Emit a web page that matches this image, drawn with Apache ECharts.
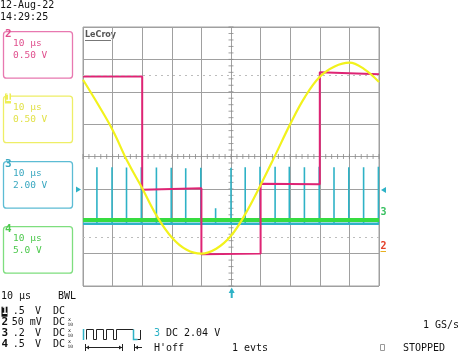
<!DOCTYPE html>
<html>
<head>
<meta charset="utf-8">
<script src="https://cdn.jsdelivr.net/npm/echarts@6/dist/echarts.min.js"></script>
<style>
  html, body { margin: 0; padding: 0; background: #fff; }
  #scope { width: 474px; height: 355px; }
</style>
</head>
<body>
<div id="scope"></div>
<script>
// time in µs (10 µs/div), level in divisions (screen is 8 div tall)
const ch1Time  = [-50, -45, -40, -35, -30, -25, -20, -15, -10, -5, 0, 5, 10, 15, 20, 25, 30, 35, 40, 45, 50];
const ch1Level = [2.37, 1.62, 0.82, -0.15, -0.98, -1.85, -2.5, -2.88, -3.0, -2.85, -2.45, -1.75, -0.88, 0.05, 1.0, 1.84, 2.46, 2.78, 2.9, 2.7, 2.3];

const ch2Time  = [-50, -30, -30, -10, -10, 10, 10, 30, 30, 50];
const ch2Level = [2.47, 2.47, -1.03, -0.98, -3.02, -3.0, -0.84, -0.86, 2.6, 2.54];

const ch3SpikeTime = [-45.3, -40.2, -35.3, -30.3, -25.2, -20.2, -15.3, -10.2, -5.2, 0, 4.8, 9.8, 14.9, 19.7, 24.8, 29.8, 34.8, 39.8, 44.8, 49.8];
const ch3SpikeTop  = [-0.33, -0.33, -0.34, -0.33, -0.34, -0.35, -0.36, -0.35, -1.6, -0.35, -0.33, -0.32, -0.32, -0.32, -0.33, -0.32, -0.33, -0.33, -0.33, -0.32];
const ch3Base = -2.08;

const ch4Time  = [-50, 50];
const ch4Level = [-1.96, -1.96];

const cursorLevels = [2.5, -2.5];

const chart = echarts.init(document.getElementById('scope'));

const mono = '"DejaVu Sans Mono", monospace';
const PINK = '#de2474', YEL = '#f2f21c', CYAN = '#2eb2c6', GREEN = '#36dc40';

// trace 3: flat line with short spikes
const ch3Data = [[-50, ch3Base]];
ch3SpikeTime.forEach((t, i) => {
  ch3Data.push([t, ch3Base], [t, ch3SpikeTop[i]], [t, ch3Base]);
});
ch3Data.push([50, ch3Base]);

// small ticks on the centre cross of the graticule
const hTicks = [], vTicks = [];
for (let t = -50; t <= 50; t += 2) hTicks.push([t, 0]);
for (let v = -4; v <= 4.001; v += 0.2) vTicks.push([0, +v.toFixed(1)]);

function txt(x, y, text, fill, size, bold) {
  return {
    type: 'text', x: x, y: y, silent: true,
    style: { text: text, fill: fill || '#111', font: (bold ? 'bold ' : '') + (size || 10) + 'px ' + mono, verticalAlign: 'middle' }
  };
}
function box(y, color, label, textColor, l1, l2) {
  return [
    { type: 'rect', shape: { x: 3.5, y: y, width: 69, height: 46.5, r: 3 },
      style: { fill: 'none', stroke: color, lineWidth: 1.3 } },
    txt(5, y + 2, label, textColor, 11, true),
    txt(13, y + 11.5, l1, textColor, 9.5),
    txt(13, y + 23.5, l2, textColor, 9.5)
  ];
}

const g = [];
g.push(txt(0, 5, '12-Aug-22'), txt(0, 17.5, '14:29:25'));
g.push(...box(31.7, '#e878b0', '2', '#e0508e', '10 µs', '0.50 V'));
g.push(...box(96.2, '#eeee66', '1', '#e2e24a', '10 µs', '0.50 V'));
g.push(...box(161.7, '#5cbcd4', '3', '#3aa8c0', '10 µs', '2.00 V'));
g.push(...box(226.7, '#7ede7e', '4', '#4cc84c', '10 µs', '5.0 V'));
// channel 1 label shown inverted
g.push({ type: 'rect', shape: { x: 5, y: 93.5, width: 6, height: 10 }, style: { fill: '#eeee55' } });
g.push(txt(5.5, 98.7, '1', '#fff', 10, true));

// LeCroy badge
g.push({ type: 'text', x: 85, y: 35, silent: true,
  style: { text: 'LeCroy', fill: '#555', font: 'bold 8px "DejaVu Sans"', verticalAlign: 'middle' } });
g.push({ type: 'line', shape: { x1: 85, y1: 40.5, x2: 111, y2: 40.5 }, style: { stroke: '#777', lineWidth: 1 } });

// trigger markers
g.push({ type: 'polygon', shape: { points: [[76, 186.5], [76, 192.5], [81, 189.5]] }, style: { fill: CYAN } });
g.push({ type: 'polygon', shape: { points: [[386, 187], [386, 193], [381, 190]] }, style: { fill: CYAN } });
g.push({ type: 'polygon', shape: { points: [[228.7, 293], [234.7, 293], [231.7, 287.5]] }, style: { fill: CYAN } });
g.push({ type: 'line', shape: { x1: 231.7, y1: 292, x2: 231.7, y2: 298 }, style: { stroke: CYAN, lineWidth: 2 } });
g.push(txt(380.5, 212, '3', '#38c060', 10, true));
g.push(txt(380.5, 246, '2', '#e4402a', 10, true));
g.push({ type: 'line', shape: { x1: 380.5, y1: 251.5, x2: 386, y2: 251.5 }, style: { stroke: '#e8b020', lineWidth: 1 } });

// bottom status area
g.push(txt(1, 296, '10 µs'), txt(58, 296, 'BWL'));
const rowY = [311.7, 322.4, 333.3, 344.2];
const rowVal = ['.5', '50 mV', '.2', '.5'];
rowY.forEach((y, i) => {
  if (i === 0) {
    g.push({ type: 'rect', shape: { x: 1.5, y: y - 5, width: 6, height: 10 }, style: { fill: '#111' } });
    g.push(txt(1.8, y, '1', '#fff', 10, true));
  } else {
    g.push(txt(1.5, y, String(i + 1), '#111', 11, true));
  }
  if (i === 1) {
    g.push(txt(11.7, y, rowVal[i]));
  } else {
    g.push(txt(12.7, y, rowVal[i]), txt(35, y, 'V'));
  }
  g.push(txt(53, y, 'DC'));
  if (i > 0) {
    g.push(txt(68, y - 2.5, 'x', '#111', 5), txt(67.5, y + 2.5, '10', '#111', 4.5));
  }
});
// pulse pictogram
g.push({ type: 'line', shape: { x1: 83.5, y1: 329, x2: 83.5, y2: 340 }, style: { stroke: CYAN, lineWidth: 1.5 } });
g.push({ type: 'polyline', shape: { points: [[86.5, 339.5], [86.5, 329.5], [93.5, 329.5], [93.5, 339.5], [96.5, 339.5], [96.5, 329.5],
  [103.5, 329.5], [103.5, 339.5], [106.5, 339.5], [106.5, 329.5], [113.5, 329.5], [113.5, 339.5], [116.5, 339.5], [116.5, 329.5], [133.5, 329.5]] },
  style: { stroke: '#222', lineWidth: 1, fill: null } });
g.push({ type: 'polyline', shape: { points: [[133.5, 329.5], [133.5, 339.5], [137.5, 339.5]] }, style: { stroke: CYAN, lineWidth: 1.5, fill: null } });
g.push({ type: 'polyline', shape: { points: [[137.5, 339.5], [140.5, 339.5], [140.5, 330]] }, style: { stroke: '#222', lineWidth: 1, fill: null } });
// holdoff arrows
g.push({ type: 'line', shape: { x1: 85.5, y1: 344, x2: 85.5, y2: 351 }, style: { stroke: '#222', lineWidth: 1 } });
g.push({ type: 'line', shape: { x1: 86, y1: 347.5, x2: 122, y2: 347.5 }, style: { stroke: '#222', lineWidth: 1 } });
g.push({ type: 'polygon', shape: { points: [[86, 347.5], [89, 345.5], [89, 349.5]] }, style: { fill: '#222' } });
g.push({ type: 'polygon', shape: { points: [[122, 347.5], [119, 345.5], [119, 349.5]] }, style: { fill: '#222' } });
g.push({ type: 'line', shape: { x1: 122.5, y1: 344, x2: 122.5, y2: 351 }, style: { stroke: '#222', lineWidth: 1 } });
g.push({ type: 'line', shape: { x1: 134.5, y1: 344, x2: 134.5, y2: 351 }, style: { stroke: '#222', lineWidth: 1 } });
g.push({ type: 'line', shape: { x1: 135, y1: 347.5, x2: 142, y2: 347.5 }, style: { stroke: '#222', lineWidth: 1 } });
g.push({ type: 'polygon', shape: { points: [[135, 347.5], [138, 345.5], [138, 349.5]] }, style: { fill: '#222' } });
g.push(txt(154, 333.3, '3', CYAN), txt(166, 333.3, 'DC 2.04 V'));
g.push(txt(154, 348, "H'off"), txt(232, 348, '1 evts'));
g.push(txt(423, 325, '1 GS/s'), txt(403, 348, 'STOPPED'));
g.push({ type: 'rect', shape: { x: 380.5, y: 344.5, width: 4, height: 6 }, style: { fill: 'none', stroke: '#999', lineWidth: 1 } });

const option = {
  animation: false,
  grid: { left: 83, top: 27, width: 296, height: 259, show: true, borderColor: '#a0a0a0', borderWidth: 1 },
  xAxis: {
    type: 'value', min: -50, max: 50, interval: 10,
    axisLine: { show: false }, axisTick: { show: false }, axisLabel: { show: false },
    splitLine: { show: true, lineStyle: { color: '#a0a0a0', width: 1 } }
  },
  yAxis: {
    type: 'value', min: -4, max: 4, interval: 1,
    axisLine: { show: false }, axisTick: { show: false }, axisLabel: { show: false },
    splitLine: { show: true, lineStyle: { color: '#a0a0a0', width: 1 } }
  },
  series: [
    {
      name: 'hticks', type: 'scatter', silent: true, symbol: 'rect', symbolSize: [1, 5],
      itemStyle: { color: '#8a8a8a' }, data: hTicks, z: 1,
      markLine: {
        silent: true, symbol: 'none', label: { show: false },
        lineStyle: { color: '#bdbdbd', type: [2, 4], width: 1 },
        data: cursorLevels.map(v => ({ yAxis: v }))
      }
    },
    {
      name: 'vticks', type: 'scatter', silent: true, symbol: 'rect', symbolSize: [5, 1],
      itemStyle: { color: '#8a8a8a' }, data: vTicks, z: 1
    },
    {
      name: 'C3', type: 'line', silent: true, showSymbol: false, data: ch3Data, z: 2,
      lineStyle: { color: CYAN, width: 1.6 }
    },
    {
      name: 'C3base', type: 'line', silent: true, showSymbol: false, z: 2,
      data: [[-50, ch3Base], [50, ch3Base]],
      lineStyle: { color: CYAN, width: 2.5 }
    },
    {
      name: 'C4', type: 'line', silent: true, showSymbol: false, z: 3,
      data: ch4Time.map((t, i) => [t, ch4Level[i]]),
      lineStyle: { color: GREEN, width: 4 }
    },
    {
      name: 'C2', type: 'line', silent: true, showSymbol: false, z: 4,
      data: ch2Time.map((t, i) => [t, ch2Level[i]]),
      lineStyle: { color: PINK, width: 2 }
    },
    {
      name: 'C1', type: 'line', silent: true, showSymbol: false, smooth: 0.4, z: 5,
      data: ch1Time.map((t, i) => [t, ch1Level[i]]),
      lineStyle: { color: YEL, width: 2.2 }
    }
  ],
  graphic: g
};

chart.setOption(option);
</script>
</body>
</html>
